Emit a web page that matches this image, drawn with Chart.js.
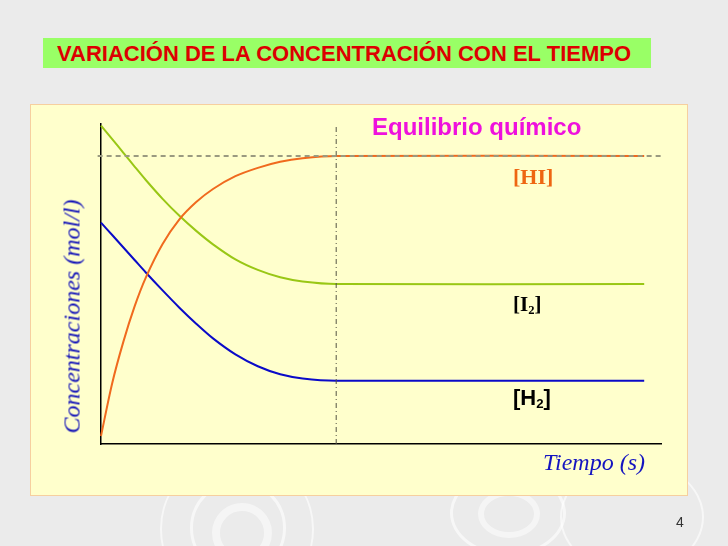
<!DOCTYPE html>
<html>
<head>
<meta charset="utf-8">
<script src="https://cdn.jsdelivr.net/npm/chart.js@4.4.0/dist/chart.umd.min.js"></script>
<style>
  html, body { margin: 0; padding: 0; }
  body { width: 728px; height: 546px; position: relative; overflow: hidden; background: #ebebeb; font-family: "Liberation Sans", Arial, sans-serif; }
  .ring { position: absolute; border-radius: 50%; border: 3px solid rgba(255,255,255,0.6); }
  #titleBox { position: absolute; left: 43px; top: 38px; width: 608px; height: 30px; background: #99ff66; }
  #title { position: absolute; left: 57px; top: 41px; font-weight: bold; font-size: 22px; color: #dd0000; white-space: nowrap; }
  #panel { position: absolute; left: 30px; top: 104px; width: 656px; height: 390px; background: #ffffcc; border: 1px solid #f6cf9f; }
  canvas { position: absolute; left: 0; top: 0; }
  .lbl { position: absolute; white-space: nowrap; font-weight: bold; }
  .serif { font-family: "Liberation Serif", "Times New Roman", serif; }
  sub { font-size: 60%; vertical-align: -0.2em; }
  #pageNo { position: absolute; left: 676px; top: 514px; font-size: 14px; color: #333; }
</style>
</head>
<body>
<div class="ring" style="left:212px;top:503px;width:44px;height:44px;border-width:8px;border-color:rgba(255,255,255,0.5);"></div>
<div class="ring" style="left:190px;top:480px;width:90px;height:90px;"></div>
<div class="ring" style="left:160px;top:452px;width:150px;height:150px;border-width:2px;"></div>
<div class="ring" style="left:478px;top:490px;width:50px;height:36px;border-width:6px;border-color:rgba(255,255,255,0.5);"></div>
<div class="ring" style="left:450px;top:470px;width:110px;height:80px;"></div>
<div class="ring" style="left:560px;top:460px;width:140px;height:110px;border-width:2px;"></div>
<div id="titleBox"></div>
<div id="title">VARIACIÓN DE LA CONCENTRACIÓN CON EL TIEMPO</div>
<div id="panel"></div>
<canvas id="chart" width="728" height="546"></canvas>
<div class="lbl" style="left:372px;top:113px;font-size:24px;color:#ee11dd;">Equilibrio químico</div>
<div class="lbl serif" style="left:513px;top:164px;font-size:22px;color:#ee6611;">[HI]</div>
<div class="lbl serif" style="left:513px;top:292px;font-size:21px;color:#000;">[I<sub>2</sub>]</div>
<div class="lbl" style="left:513px;top:385px;font-size:22px;color:#000;">[H<sub>2</sub>]</div>
<div class="lbl serif" style="left:543px;top:449px;font-size:24px;font-weight:normal;font-style:italic;color:#1414c0;">Tiempo (s)</div>
<div class="lbl serif" style="left:-48px;top:303px;width:240px;text-align:center;transform:rotate(-90deg);font-size:24px;font-weight:normal;font-style:italic;color:#1414b8;">Concentraciones (mol/l)</div>
<div id="pageNo">4</div>
<script>
// time (s) and concentrations (mol/l)
const times = [0, 2, 4, 6, 8, 11, 14, 17, 20, 24, 28, 32, 36, 42, 97];
const concHI = [0.25, 1.9, 3.2, 4.3, 5.2, 6.25, 7.02, 7.56, 7.97, 8.37, 8.63, 8.82, 8.93, 9.0, 9.0];
const concI2 = [9.95, 9.53, 9.1, 8.67, 8.25, 7.66, 7.13, 6.66, 6.24, 5.77, 5.44, 5.21, 5.08, 5.0, 5.0];
const concH2 = [6.92, 6.53, 6.14, 5.75, 5.36, 4.8, 4.26, 3.76, 3.3, 2.8, 2.43, 2.18, 2.05, 1.98, 1.98];

const eqTime = 42;          // equilibrium reached
const eqHI = 9.0;           // equilibrium [HI]
const refLineX = [-0.6, 100];
const concRange = [0, 10];

function pts(ys) {
    return times.map((t, i) => ({ x: t, y: ys[i] }));
}

new Chart(document.getElementById('chart'), {
    type: 'line',
    data: {
        datasets: [{
            label: 'eq',
            data: refLineX.map(x => ({ x: x, y: eqHI })),
            borderColor: '#9a9a80',
            borderWidth: 2,
            borderDash: [5, 4],
            pointRadius: 0
        }, {
            label: 'teq',
            data: concRange.map(y => ({ x: eqTime, y: y })),
            borderColor: '#555544',
            borderWidth: 1,
            borderDash: [5, 3, 1, 3],
            pointRadius: 0
        }, {
            label: '[HI]',
            data: pts(concHI),
            borderColor: '#f06a1e',
            borderWidth: 2,
            pointRadius: 0,
            tension: 0.3
        }, {
            label: '[I2]',
            data: pts(concI2),
            borderColor: '#99c715',
            borderWidth: 2,
            pointRadius: 0,
            tension: 0.3
        }, {
            label: '[H2]',
            data: pts(concH2),
            borderColor: '#0a0ac8',
            borderWidth: 2,
            pointRadius: 0,
            tension: 0.3
        }]
    },
    options: {
        responsive: false,
        animation: false,
        clip: false,
        layout: { padding: { left: 101, right: 67, top: 124, bottom: 102 } },
        plugins: { legend: { display: false }, tooltip: { enabled: false } },
        scales: {
            x: {
                type: 'linear',
                min: 0,
                max: 100,
                grid: { display: false },
                ticks: { display: false },
                border: { display: true, color: '#000', width: 1.5 },
                afterFit: s => { s.height = 0; }
            },
            y: {
                min: 0,
                max: 10,
                grid: { display: false },
                ticks: { display: false },
                border: { display: true, color: '#000', width: 1.5 },
                afterFit: s => { s.width = 0; }
            }
        }
    }
});
</script>
</body>
</html>
